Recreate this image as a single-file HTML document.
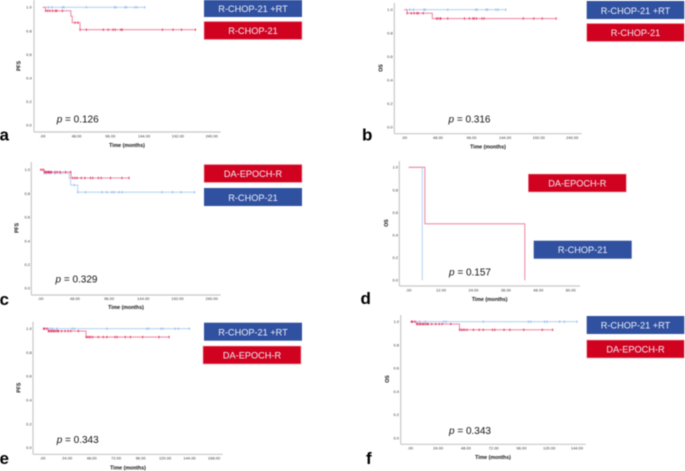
<!DOCTYPE html>
<html lang="en">
<head>
<meta charset="utf-8">
<title>Kaplan-Meier survival curves</title>
<style>
html,body{margin:0;padding:0;background:#fff;width:685px;height:471px;overflow:hidden}
svg{display:block;filter:blur(.5px);font-family:"Liberation Sans",sans-serif}
.box-text{font-size:9.2px;fill:#eef0f8;text-anchor:middle}
.p-text{font-size:10px;fill:#111}
.p-text tspan{font-style:italic}
.letter{font-size:17px;font-weight:bold;fill:#000}
</style>
</head>
<body>
<svg id="figure" width="685" height="471" viewBox="0 0 685 471" xmlns="http://www.w3.org/2000/svg">
  <g>
    <rect x="204" y="-1" width="98" height="18" fill="#3050a0"/>
    <text class="box-text" x="253" y="12">R-CHOP-21 +RT</text>
    <rect x="204" y="21.5" width="98" height="18" fill="#d0021f" stroke="#f4a8b4" stroke-width=".6"/>
    <text class="box-text" x="253" y="34">R-CHOP-21</text>
  </g>
  <g>
    <rect x="586.7" y="1" width="97.6" height="18" fill="#3050a0"/>
    <text class="box-text" x="635.5" y="14">R-CHOP-21 +RT</text>
    <rect x="586.7" y="23.5" width="97.6" height="18" fill="#d0021f" stroke="#f4a8b4" stroke-width=".6"/>
    <text class="box-text" x="635.5" y="36">R-CHOP-21</text>
  </g>
  <g>
    <rect x="204" y="164.5" width="98" height="18" fill="#d0021f" stroke="#f4a8b4" stroke-width=".6"/>
    <text class="box-text" x="253" y="177">DA-EPOCH-R</text>
    <rect x="204" y="188" width="98" height="18" fill="#3050a0"/>
    <text class="box-text" x="253" y="201">R-CHOP-21</text>
  </g>
  <g>
    <rect x="528.3" y="174" width="98" height="18" fill="#d0021f" stroke="#f4a8b4" stroke-width=".6"/>
    <text class="box-text" x="577.3" y="186.5">DA-EPOCH-R</text>
    <rect x="533.7" y="240.7" width="98" height="18" fill="#3050a0"/>
    <text class="box-text" x="582.7" y="253">R-CHOP-21</text>
  </g>
  <g>
    <rect x="204" y="322.7" width="98" height="18" fill="#3050a0"/>
    <text class="box-text" x="253" y="335.5">R-CHOP-21 +RT</text>
    <rect x="203" y="346" width="98" height="18" fill="#d0021f" stroke="#f4a8b4" stroke-width=".6"/>
    <text class="box-text" x="252" y="358.5">DA-EPOCH-R</text>
  </g>
  <g>
    <rect x="586.7" y="316" width="97.6" height="18" fill="#3050a0"/>
    <text class="box-text" x="635.5" y="328.5">R-CHOP-21 +RT</text>
    <rect x="586.7" y="340" width="97.6" height="18" fill="#d0021f" stroke="#f4a8b4" stroke-width=".6"/>
    <text class="box-text" x="635.5" y="352.5">DA-EPOCH-R</text>
  </g>

  <text class="p-text" x="56.7" y="122.5"><tspan>p</tspan> = 0.126</text>
  <text class="p-text" x="448.5" y="122.5"><tspan>p</tspan> = 0.316</text>
  <text class="p-text" x="55.5" y="282.5"><tspan>p</tspan> = 0.329</text>
  <text class="p-text" x="449" y="275.5"><tspan>p</tspan> = 0.157</text>
  <text class="p-text" x="56.7" y="443"><tspan>p</tspan> = 0.343</text>
  <text class="p-text" x="449" y="434"><tspan>p</tspan> = 0.343</text>

  <text class="letter" x="-0.5" y="140.5">a</text>
  <text class="letter" x="362" y="140.5">b</text>
  <text class="letter" x="-0.5" y="305">c</text>
  <text class="letter" x="360.5" y="304">d</text>
  <text class="letter" x="-0.5" y="464">e</text>
  <text class="letter" x="366" y="464">f</text>
</svg>
<script>
// ---------- Tick labels ----------
const yTickValues = [0, 0.2, 0.4, 0.6, 0.8, 1.0];
const xTicks240 = [0, 48, 96, 144, 192, 240];
const xTicks60 = [0, 12, 24, 36, 48, 60];
const xTicks168 = [0, 24, 48, 72, 96, 120, 144, 168];
const xTicks144 = [0, 24, 48, 72, 96, 120, 144];

// ---------- Panel a: PFS ----------
const aBlueDropTimes = [];
const aBlueDropValues = [];
const aBlueStart = 1;
const aBlueEnd = 145;
const aBlueCensored = [8, 13, 28, 30, 62, 102, 104, 117, 119, 131, 134, 145];
const aRedDropTimes = [4, 40, 42, 53];
const aRedDropValues = [0.97, 0.925, 0.87, 0.81];
const aRedStart = 1;
const aRedEnd = 217;
const aRedCensored = [4, 7, 10, 14, 18, 20, 28, 46, 50, 53, 62, 86, 93, 100, 103, 111, 113, 170, 185, 197, 217];

// ---------- Panel b: OS ----------
const bBlueDropTimes = [];
const bBlueDropValues = [];
const bBlueStart = 1;
const bBlueEnd = 145;
const bBlueCensored = [8, 13, 28, 30, 62, 102, 104, 117, 119, 131, 134, 145];
const bRedDropTimes = [4, 40];
const bRedDropValues = [0.97, 0.925];
const bRedStart = 1;
const bRedEnd = 217;
const bRedCensored = [4, 10, 14, 18, 20, 27, 46, 48, 51, 52, 62, 86, 93, 98, 100, 103, 111, 114, 170, 185, 197, 217];

// ---------- Panel c: PFS ----------
const cBlueDropTimes = [5, 40, 42, 52];
const cBlueDropValues = [0.97, 0.925, 0.87, 0.81];
const cBlueStart = 1;
const cBlueEnd = 216;
const cBlueCensored = [5, 8, 13, 20, 28, 47, 52, 63, 86, 93, 100, 103, 110, 114, 170, 185, 197, 216];
const cRedDropTimes = [5, 42.5];
const cRedDropValues = [0.98, 0.93];
const cRedStart = 1;
const cRedEnd = 124;
const cRedCensored = [0, 3, 5, 7, 8, 10, 11, 12, 14, 15, 20, 23, 27, 35, 42, 45, 48, 51, 57, 62, 70, 73, 81, 85, 98, 114, 124];

// ---------- Panel d: OS ----------
const dBlueDropTimes = [5];
const dBlueDropValues = [0];
const dBlueStart = 1;
const dBlueEnd = 5;
const dBlueCensored = [];
const dRedDropTimes = [6, 43];
const dRedDropValues = [0.5, 0];
const dRedStart = 1;
const dRedEnd = 43;
const dRedCensored = [];

// ---------- Panel e: PFS ----------
const eBlueDropTimes = [];
const eBlueDropValues = [];
const eBlueStart = 1;
const eBlueEnd = 144.5;
const eBlueCensored = [5.5, 8, 10, 14, 29, 31, 63, 102, 104, 116, 118, 130, 133, 144];
const eRedDropTimes = [5.5, 42.5];
const eRedDropValues = [0.98, 0.93];
const eRedStart = 1;
const eRedEnd = 124;
const eRedCensored = [1, 2, 4, 5.5, 6.5, 8, 9, 10.5, 11.5, 13, 14.5, 15.5, 18.5, 22, 25, 27.5, 35, 42.5, 44, 45.5, 47, 49, 54.5, 59.5, 63, 71, 73, 81, 86, 98, 114, 124];

// ---------- Panel f: OS ----------
const fBlueDropTimes = [];
const fBlueDropValues = [];
const fBlueStart = 1;
const fBlueEnd = 144;
const fBlueCensored = [8, 13, 29, 31, 63, 102, 104, 116, 118, 129, 133, 144];
const fRedDropTimes = [5.5, 42.5];
const fRedDropValues = [0.98, 0.93];
const fRedStart = 1;
const fRedEnd = 123;
const fRedCensored = [1, 2, 4, 5.5, 6.5, 8, 9, 10.5, 11.5, 13, 14.5, 15.5, 18.5, 22, 25, 27.5, 35, 42.5, 44, 45.5, 47, 49, 54.5, 59.5, 63, 71, 73, 81, 86, 98, 114, 123];

const NS = 'http://www.w3.org/2000/svg';
const figure = document.getElementById('figure');

function svgEl(tag, attrs, parent) {
  const el = document.createElementNS(NS, tag);
  for (const k in attrs) el.setAttribute(k, attrs[k]);
  parent.appendChild(el);
  return el;
}

function survivalAt(t, start, times, values) {
  let s = start;
  for (let i = 0; i < times.length; i++) {
    if (t >= times[i]) s = values[i];
  }
  return s;
}

function drawSeries(g, name, color, markColor, sx, sy, start, times, values, end, censored) {
  let d = 'M' + sx(0) + ' ' + sy(start);
  for (let i = 0; i < times.length; i++) {
    d += 'H' + sx(times[i]) + 'V' + sy(values[i]);
  }
  d += 'H' + sx(end);
  const line = svgEl('path', {d: d, fill: 'none', stroke: color, 'stroke-width': 1.1}, g);
  
  
  censored.forEach(function (t) {
    const y = sy(survivalAt(t, start, times, values));
    const mark = svgEl('path', {d: 'M' + sx(t) + ' ' + (y - 1.2) + 'v2.4', stroke: markColor, 'stroke-width': 0.9, fill: 'none'}, g);
    
    
  });
}

function formatX(v) {
  return v === 0 ? '.00' : v.toFixed(2);
}

function drawPanel(p) {
  const g = svgEl('g', {}, figure);
  
  
  const sx = function (t) { return p.x0 + (t / p.xTicks[p.xTicks.length - 1]) * (p.x1 - p.x0); };
  const sy = function (s) { return p.y0 + s * (p.y1 - p.y0); };

  const yAxis = svgEl('line', {x1: p.axisX, x2: p.axisX, y1: p.axisTop, y2: p.axisY, stroke: '#c8c8c8', 'stroke-width': 1.2}, g);
  
  
  const xAxis = svgEl('line', {x1: p.axisX, x2: p.axisEnd, y1: p.axisY, y2: p.axisY, stroke: '#c8c8c8', 'stroke-width': 1.2}, g);
  
  

  yTickValues.forEach(function (v) {
    const t = svgEl('text', {x: p.yLabelX, y: sy(v) + 1.4, 'text-anchor': 'end', 'font-size': 4, fill: '#333'}, g);
    
    
    t.textContent = v.toFixed(1);
  });
  p.xTicks.forEach(function (v) {
    const t = svgEl('text', {x: sx(v), y: p.xLabelY, 'text-anchor': 'middle', 'font-size': 4, fill: '#333'}, g);
    
    
    t.textContent = formatX(v);
  });

  const xTitle = svgEl('text', {x: p.xTitleX, y: p.xTitleY, 'text-anchor': 'middle', 'font-size': 5.2, 'font-weight': 'bold', fill: '#111'}, g);
  
  
  xTitle.textContent = 'Time (months)';
  const yTitle = svgEl('text', {x: p.yTitleX, y: p.yTitleY, 'text-anchor': 'middle', 'font-size': 5.2, 'font-weight': 'bold', fill: '#111', transform: 'rotate(-90 ' + p.yTitleX + ' ' + p.yTitleY + ')'}, g);
  
  
  yTitle.textContent = p.yTitle;

  drawSeries(g, 'blue', '#b9d6f2', '#8fb8ea', sx, sy, p.blue[0], p.blue[1], p.blue[2], p.blue[3], p.blue[4]);
  drawSeries(g, 'red', '#f08fa8', '#e0305f', sx, sy, p.red[0], p.red[1], p.red[2], p.red[3], p.red[4]);
}

drawPanel({id: 'a', yTitle: 'PFS', xTicks: xTicks240, x0: 42.7, x1: 211.7, y0: 125.3, y1: 7.3,
  axisX: 34, axisY: 132, axisTop: 0, axisEnd: 220.7, yLabelX: 31.7, xLabelY: 137.5,
  xTitleX: 127, xTitleY: 147, yTitleX: 20.5, yTitleY: 66,
  blue: [aBlueStart, aBlueDropTimes, aBlueDropValues, aBlueEnd, aBlueCensored],
  red: [aRedStart, aRedDropTimes, aRedDropValues, aRedEnd, aRedCensored]});
drawPanel({id: 'b', yTitle: 'OS', xTicks: xTicks240, x0: 404.3, x1: 572.3, y0: 127.3, y1: 9.7,
  axisX: 394.3, axisY: 133.7, axisTop: 3, axisEnd: 581.7, yLabelX: 392.7, xLabelY: 139,
  xTitleX: 488, xTitleY: 148.7, yTitleX: 382.5, yTitleY: 68,
  blue: [bBlueStart, bBlueDropTimes, bBlueDropValues, bBlueEnd, bBlueCensored],
  red: [bRedStart, bRedDropTimes, bRedDropValues, bRedEnd, bRedCensored]});
drawPanel({id: 'c', yTitle: 'PFS', xTicks: xTicks240, x0: 40.7, x1: 211.7, y0: 288.3, y1: 169.7,
  axisX: 31.3, axisY: 295, axisTop: 162, axisEnd: 220.7, yLabelX: 30, xLabelY: 300,
  xTitleX: 126, xTitleY: 309, yTitleX: 18.5, yTitleY: 228,
  blue: [cBlueStart, cBlueDropTimes, cBlueDropValues, cBlueEnd, cBlueCensored],
  red: [cRedStart, cRedDropTimes, cRedDropValues, cRedEnd, cRedCensored]});
drawPanel({id: 'd', yTitle: 'OS', xTicks: xTicks60, x0: 408.7, x1: 570.7, y0: 280.3, y1: 167.3,
  axisX: 399.3, axisY: 286, axisTop: 161, axisEnd: 580, yLabelX: 398, xLabelY: 291.5,
  xTitleX: 489.7, xTitleY: 301, yTitleX: 387.8, yTitleY: 223,
  blue: [dBlueStart, dBlueDropTimes, dBlueDropValues, dBlueEnd, dBlueCensored],
  red: [dRedStart, dRedDropTimes, dRedDropValues, dRedEnd, dRedCensored]});
drawPanel({id: 'e', yTitle: 'PFS', xTicks: xTicks168, x0: 42.7, x1: 214, y0: 447.7, y1: 328.7,
  axisX: 33, axisY: 454.3, axisTop: 321.7, axisEnd: 222.7, yLabelX: 31.7, xLabelY: 459.7,
  xTitleX: 128, xTitleY: 469.7, yTitleX: 20.5, yTitleY: 387.7,
  blue: [eBlueStart, eBlueDropTimes, eBlueDropValues, eBlueEnd, eBlueCensored],
  red: [eRedStart, eRedDropTimes, eRedDropValues, eRedEnd, eRedCensored]});
drawPanel({id: 'f', yTitle: 'OS', xTicks: xTicks144, x0: 410.3, x1: 577, y0: 438, y1: 321.7,
  axisX: 400.7, axisY: 444.3, axisTop: 315, axisEnd: 585.7, yLabelX: 399, xLabelY: 449.5,
  xTitleX: 493, xTitleY: 459, yTitleX: 388.8, yTitleY: 379,
  blue: [fBlueStart, fBlueDropTimes, fBlueDropValues, fBlueEnd, fBlueCensored],
  red: [fRedStart, fRedDropTimes, fRedDropValues, fRedEnd, fRedCensored]});
</script>
</body>
</html>
